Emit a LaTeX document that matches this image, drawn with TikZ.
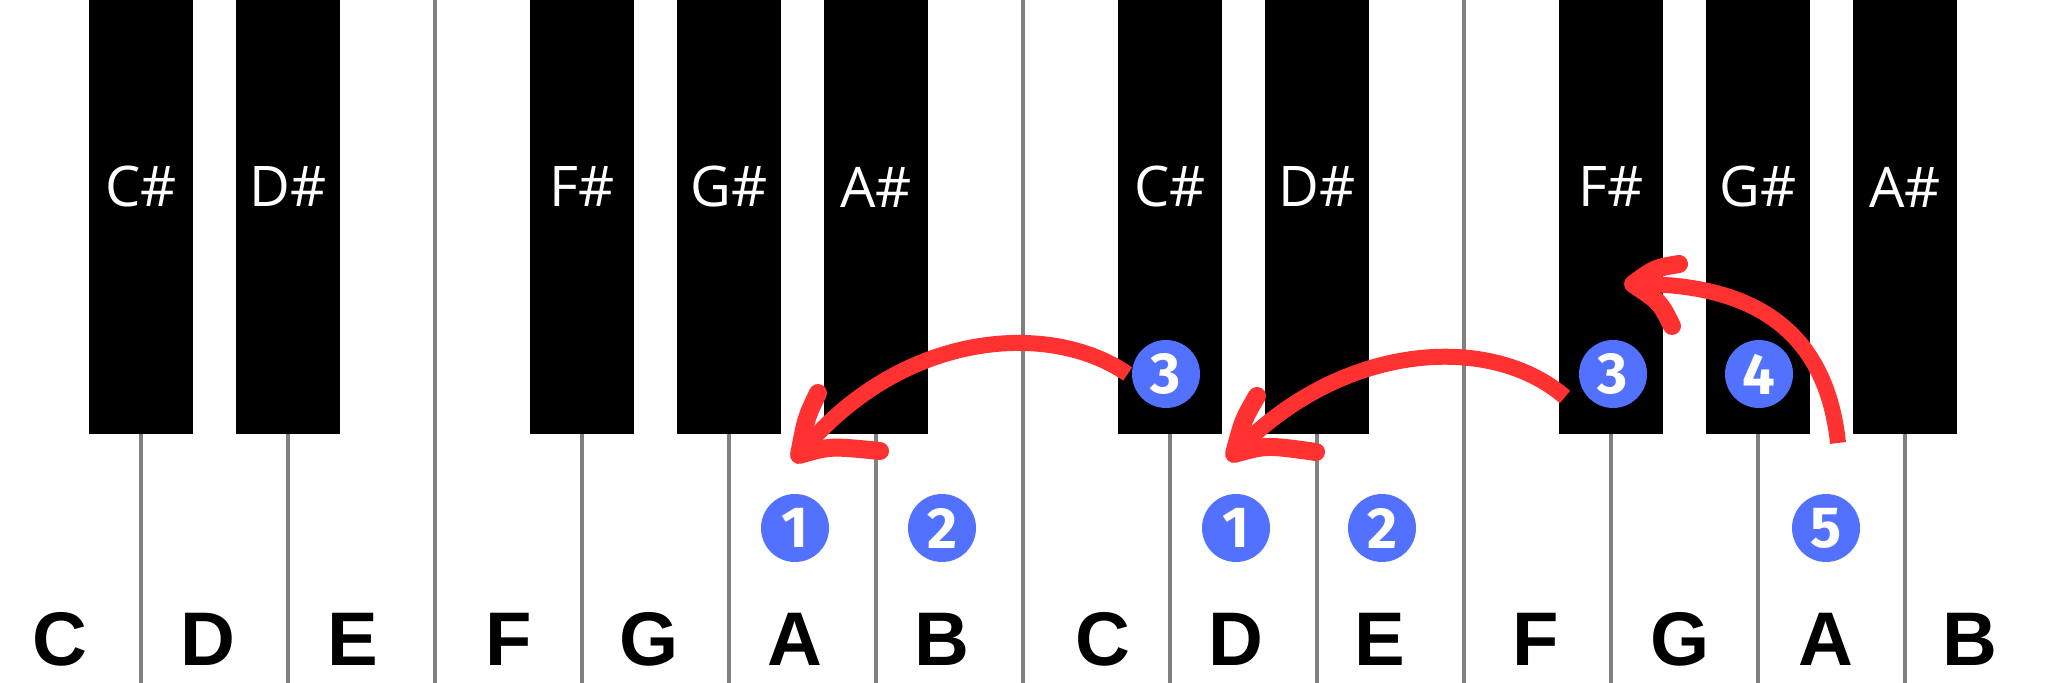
\documentclass[tikz,border=0pt]{standalone}
\usepackage{fontspec}
\setmainfont{Liberation Sans}
\newfontfamily\keyfont{Open Sans}
\newfontfamily\numfont{Fira Sans}
\definecolor{numblue}{HTML}{5271FF}
\definecolor{arrred}{HTML}{FF3131}
\begin{document}
\begin{tikzpicture}[x=0.5pt,y=-0.5pt,
  keyline/.style={draw=black!50, line width=1.7pt},
  blackkey/.style={fill=black},
  sharplabel/.style={text=white, font=\keyfont\fontsize{28}{28}\selectfont, inner sep=0pt},
  notelabel/.style={text=black, font=\bfseries\fontsize{38}{38}\selectfont, inner sep=0pt},
  fingerdot/.style={circle, fill=numblue, minimum size=34pt, inner sep=0pt, text=white, font=\numfont\bfseries\fontsize{29}{29}\selectfont},
  brush/.style={draw=arrred, line width=8pt},
  barb/.style={draw=arrred, line width=9pt, line cap=round, line join=round},
]
\useasboundingbox (0,0) rectangle (2048,683);
\fill[white] (0,0) rectangle (2048,683);
% white key separators
\foreach \k in {0,...,12} \draw[keyline] ({141+147*\k},-5) -- ({141+147*\k},690);
% black keys with labels
\foreach \k/\nm in {0/C,1/D,3/F,4/G,5/A,7/C,8/D,10/F,11/G,12/A} {
  \fill[blackkey] ({141+147*\k-52},-5) rectangle ({141+147*\k+52},434);
  \node[sharplabel] (s\k) at ({141+147*\k},187) {\nm\#};
}
% white key labels
\foreach \x/\nm/\i in {60/C/1,208/D/2,353/E/3,509/F/4,649/G/5,795/A/6,942/B/7,1103/C/8,1236/D/9,1380/E/10,1536/F/11,1680/G/12,1826/A/13,1970/B/14} {
  \node[notelabel] (w\i) at (\x,639) {\nm};
}
% finger numbers
\node[fingerdot] (c1a) at (795,528) {1};
\node[fingerdot] (c2a) at (942,528) {2};
\node[fingerdot] (c3a) at (1166,374) {3};
\node[fingerdot] (c1b) at (1236,528) {1};
\node[fingerdot] (c2b) at (1382,528) {2};
\node[fingerdot] (c3b) at (1613,374) {3};
\node[fingerdot] (c4) at (1759,374) {4};
\node[fingerdot] (c5) at (1826,528) {5};
% arrow coordinates
\coordinate (tail1) at ([xshift=-2pt]c3a.west);
\coordinate (tip1) at (799,455);
\coordinate (tail2) at (1565,397);
\coordinate (tip2) at (1234,454);
\coordinate (tail3) at (1838,443);
\coordinate (tip3) at (1633,284);
% arrow 1
\draw[brush] (tail1) .. controls (1050,320) and (900,330) .. (tip1);
\draw[barb] (818,393) .. controls (806,418) .. (tip1) .. controls (830,446) .. (880,451);
% arrow 2
\draw[brush] (tail2) .. controls (1490,332) and (1340,342) .. (tip2);
\draw[barb] (1257,396) .. controls (1243,420) .. (tip2) .. controls (1266,445) .. (1316,452);
% arrow 3
\draw[brush] (tail3) .. controls (1825,320) and (1740,283) .. (tip3);
\draw[barb] (1679,264) .. controls (1655,268) .. (tip3) .. controls (1660,302) .. (1672,326);
\end{tikzpicture}
\end{document}
